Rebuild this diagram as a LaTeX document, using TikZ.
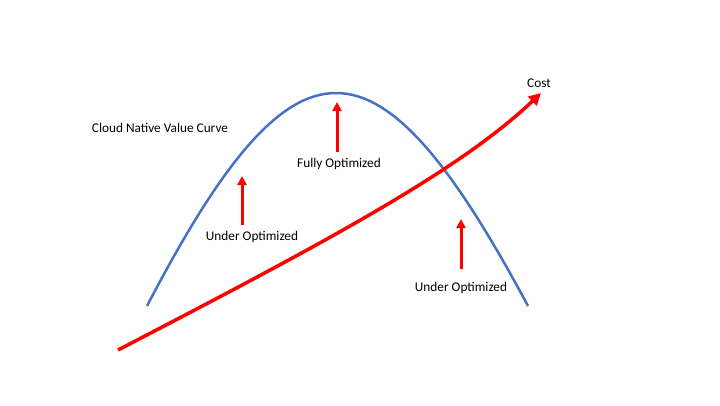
\documentclass[tikz,border=0pt]{standalone}
\usepackage{fontspec}
\setmainfont{Carlito}
\usetikzlibrary{arrows.meta}
\definecolor{valueblue}{RGB}{68,114,196}
\definecolor{costred}{RGB}{255,0,0}

\begin{document}
\begin{tikzpicture}[x=1pt, y=-1pt, font=\fontsize{13.3}{16}\selectfont,
  upptr/.style={costred, line width=3pt, -{Triangle[length=9pt,width=9pt]}}]
  \useasboundingbox (0,0) rectangle (720,405);
  % value curve, peak near (337,93)
  \coordinate (V0) at (147,306);
  \coordinate (V1) at (528,306);
  \draw[valueblue, line width=2.5pt] (V0) .. controls (295,22) and (376,22) .. (V1);
  % cost curve
  \coordinate (C0) at (118,350);
  \coordinate (C1) at (541,93);
  \draw[costred, line width=3.5pt, -{Triangle[length=12pt,width=12pt]}]
    (C0) .. controls (330,240) and (460,170) .. (C1);
  % labels
  \node (title) at (160,128) {Cloud Native Value Curve};
  \node (fully) at (339,164) {Fully Optimized};
  \node (underL) at (252,237) {Under Optimized};
  \node (underR) at (461,288) {Under Optimized};
  \node (cost) at (539,83) {Cost};
  % small arrows
  \coordinate (fullytail) at (337,152);
  \coordinate (fullytip) at (337,102);
  \coordinate (underLtail) at (242,225);
  \coordinate (underLtip) at (242,176);
  \coordinate (underRtail) at (461,269);
  \coordinate (underRtip) at (461,219);
  \draw[upptr] (fullytail) -- (fullytip);
  \draw[upptr] (underLtail) -- (underLtip);
  \draw[upptr] (underRtail) -- (underRtip);
\end{tikzpicture}
\end{document}
